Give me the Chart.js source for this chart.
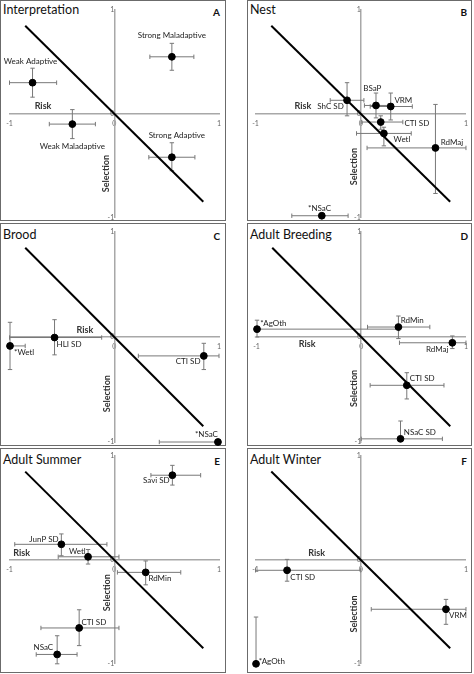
<!DOCTYPE html>
<html><head><meta charset="utf-8">
<script src="https://cdn.jsdelivr.net/npm/chart.js@4.4.1/dist/chart.umd.min.js"></script>
<style>
html,body{margin:0;padding:0;background:#fff;}
#wrap{position:relative;width:474px;height:674px;overflow:hidden;background:#fff;}
.frame{position:absolute;box-sizing:border-box;border:1.5px solid #6b6b6b;}
.ptitle{position:absolute;font-family:Lato,sans-serif;font-size:12.5px;color:#111;line-height:1;white-space:nowrap;}
.pletter{position:absolute;width:20px;text-align:right;font-family:Lato,sans-serif;font-weight:bold;font-size:10px;color:#111;line-height:1;}
canvas{position:absolute;left:0;top:0;}
</style></head><body><div id="wrap">
<div class="frame" style="left:0;top:0;width:226px;height:221px"></div>
<div class="frame" style="left:247px;top:0;width:225px;height:221px"></div>
<div class="frame" style="left:0;top:223px;width:226px;height:223px"></div>
<div class="frame" style="left:247px;top:223px;width:225px;height:223px"></div>
<div class="frame" style="left:0;top:448px;width:226px;height:225px"></div>
<div class="frame" style="left:247px;top:448px;width:225px;height:225px"></div>
<div class="ptitle" style="left:3px;top:3.9px">Interpretation</div>
<div class="ptitle" style="left:250px;top:4.4px">Nest</div>
<div class="ptitle" style="left:3px;top:229.2px">Brood</div>
<div class="ptitle" style="left:250px;top:229.2px">Adult Breeding</div>
<div class="ptitle" style="left:3px;top:454.2px">Adult Summer</div>
<div class="ptitle" style="left:250px;top:454.2px">Adult Winter</div>
<div class="pletter" style="left:200px;top:6.8px">A</div>
<div class="pletter" style="left:447px;top:6.8px">B</div>
<div class="pletter" style="left:200px;top:231.4px">C</div>
<div class="pletter" style="left:448px;top:231.4px">D</div>
<div class="pletter" style="left:200px;top:456.4px">E</div>
<div class="pletter" style="left:447px;top:456.4px">F</div>
<canvas id="cA" width="474" height="674"></canvas>
<canvas id="cB" width="474" height="674"></canvas>
<canvas id="cC" width="474" height="674"></canvas>
<canvas id="cD" width="474" height="674"></canvas>
<canvas id="cE" width="474" height="674"></canvas>
<canvas id="cF" width="474" height="674"></canvas>
</div>
<script>
// ---------- DATA (risk = x, selection = y) ----------
const tickValues = [-1, 0, 1];
const diagonalRisk = [-0.85, 0.85];
const diagonalSelection = [0.85, -0.85];

// A: Interpretation
const interpNames = ['Weak Adaptive', 'Strong Maladaptive', 'Weak Maladaptive', 'Strong Adaptive'];
const interpRisk = [-0.78, 0.55, -0.40, 0.55];
const interpSelection = [0.30, 0.55, -0.10, -0.42];
const interpRiskCI = [[-1.0, -0.55], [0.34, 0.76], [-0.62, -0.18], [0.33, 0.77]];
const interpSelectionCI = [[0.16, 0.44], [0.42, 0.68], [-0.24, 0.04], [-0.55, -0.28]];

// B: Nest
const nestNames = ['ShC SD', 'BSaP', 'VRM', 'CTI SD', 'Wetl', 'RdMaj', '*NSaC'];
const nestRisk = [-0.13, 0.145, 0.285, 0.19, 0.22, 0.71, -0.37];
const nestSelection = [0.13, 0.08, 0.07, -0.08, -0.19, -0.33, -0.985];
const nestRiskCI = [[-0.29, 0.03], [0.035, 0.26], [0.09, 0.49], [0.01, 0.40], [-0.04, 0.48], [0.06, 1.0], [-0.655, -0.12]];
const nestSelectionCI = [[-0.02, 0.30], [-0.04, 0.20], [-0.06, 0.20], [-0.15, -0.02], [-0.31, -0.13], [-0.77, 0.09], null];

// C: Brood
const broodNames = ['HLI SD', '*Wetl', 'CTI SD', '*NSaC'];
const broodRisk = [-0.57, -0.995, 0.855, 0.99];
const broodSelection = [-0.005, -0.085, -0.18, -1.0];
const broodRiskCI = [[-1.0, -0.12], [-1.0, -0.85], [0.23, 1.0], [0.43, 1.0]];
const broodSelectionCI = [[-0.17, 0.165], [-0.31, 0.14], [-0.31, -0.06], null];

// D: Adult Breeding
const breedNames = ['*AgOth', 'RdMin', 'RdMaj', 'CTI SD', 'NSaC SD'];
const breedRisk = [-0.995, 0.355, 0.87, 0.435, 0.375];
const breedSelection = [0.075, 0.095, -0.055, -0.46, -0.97];
const breedRiskCI = [[-1.0, 0.36], [0.06, 0.655], [0.365, 1.0], [0.085, 0.79], [0.0, 0.775]];
const breedSelectionCI = [[0.0, 0.16], [-0.015, 0.2], [-0.11, 0.01], [-0.59, -0.34], [-0.975, -0.8]];

// E: Adult Summer
const summerNames = ['Savi SD', 'JunP SD', 'Wetl', 'RdMin', 'CTI SD', 'NSaC'];
const summerRisk = [0.555, -0.505, -0.25, 0.30, -0.335, -0.545];
const summerSelection = [0.815, 0.15, 0.03, -0.12, -0.655, -0.91];
const summerRiskCI = [[0.35, 0.825], [-0.95, -0.07], [-0.535, 0.045], [0.03, 0.635], [-0.70, 0.045], [-0.745, -0.355]];
const summerSelectionCI = [[0.72, 0.91], [0.04, 0.25], [-0.04, 0.10], [-0.24, -0.01], [-0.825, -0.48], [-1.0, -0.73]];

// F: Adult Winter
const winterNames = ['CTI SD', 'VRM', '*AgOth'];
const winterRisk = [-0.70, 0.81, -0.995];
const winterSelection = [-0.10, -0.475, -1.0];
const winterRiskCI = [[-1.0, 0.0], [0.10, 1.0], null];
const winterSelectionCI = [[-0.205, 0.005], [-0.62, -0.38], [-1.0, -0.55]];

// ---------- STYLE / LAYOUT (label anchor: px offset from point + alignment) ----------
const interpLabelOffsets = [[-2, -21.7, 'center'], [0, -21.3, 'center'], [0, 22.7, 'center'], [5, -21.7, 'center']];
const nestLabelOffsets = [[-3.3, 5.7, 'right'], [-3.7, -17, 'center'], [3.7, -6, 'left'], [23.7, 1.7, 'left'], [9.7, 6.3, 'left'], [5.3, -5, 'left'], [-2.3, -7.7, 'center']];
const broodLabelOffsets = [[2, 6.7, 'left'], [4, 6.7, 'left'], [-3.3, 6, 'right'], [0, -7.3, 'right']];
const breedLabelOffsets = [[3.3, -5.7, 'left'], [2.3, -6.3, 'left'], [-4, 6.7, 'right'], [3, -6.7, 'left'], [3.3, -6.7, 'left']];
const summerLabelOffsets = [[-2.7, 5.7, 'right'], [-2.7, -5.3, 'right'], [-2.3, -5, 'right'], [2.7, 5.7, 'left'], [2.3, -5.7, 'left'], [-4, -7, 'right']];
const winterLabelOffsets = [[3.3, 7.3, 'left'], [3, 5.7, 'left'], [2.7, -2.7, 'left']];

const FONT = 'Lato, "Open Sans", sans-serif';

const errorBars = {
  id: 'errorBars',
  beforeDatasetsDraw(chart) {
    const ds = chart.data.datasets[0];
    const xs = chart.scales.x, ys = chart.scales.y;
    const ctx = chart.ctx;
    ctx.save();
    ctx.strokeStyle = '#787878';
    ctx.lineWidth = 1;
    const cap = 2.2;
    ds.data.forEach((p, i) => {
      const px = xs.getPixelForValue(p.x), py = ys.getPixelForValue(p.y);
      const rc = ds.riskCI[i], sc = ds.selCI[i];
      ctx.beginPath();
      if (rc) {
        const a = xs.getPixelForValue(rc[0]), b = xs.getPixelForValue(rc[1]);
        ctx.moveTo(a, py); ctx.lineTo(b, py);
        ctx.moveTo(a, py - cap); ctx.lineTo(a, py + cap);
        ctx.moveTo(b, py - cap); ctx.lineTo(b, py + cap);
      }
      if (sc) {
        const a = ys.getPixelForValue(sc[0]), b = ys.getPixelForValue(sc[1]);
        ctx.moveTo(px, a); ctx.lineTo(px, b);
        ctx.moveTo(px - cap, a); ctx.lineTo(px + cap, a);
        ctx.moveTo(px - cap, b); ctx.lineTo(px + cap, b);
      }
      ctx.stroke();
    });
    ctx.restore();
  }
};

const panelText = {
  id: 'panelText',
  afterDatasetsDraw(chart, args, opts) {
    const ds = chart.data.datasets[0];
    const xs = chart.scales.x, ys = chart.scales.y;
    const ctx = chart.ctx;
    ctx.save();
    ctx.fillStyle = '#222';
    ctx.textBaseline = 'middle';
    ctx.font = '8px ' + FONT;
    ds.data.forEach((p, i) => {
      const px = xs.getPixelForValue(p.x), py = ys.getPixelForValue(p.y);
      const o = ds.offsets[i];
      ctx.textAlign = o[2];
      ctx.fillText(ds.names[i], px + o[0], py + o[1]);
    });
    ctx.textAlign = 'center';
    ctx.font = 'bold 9px ' + FONT;
    ctx.fillStyle = '#333';
    ctx.fillText('Risk', xs.getPixelForValue(opts.riskAt[0]), ys.getPixelForValue(opts.riskAt[1]));
    ctx.translate(xs.getPixelForValue(opts.selAt[0]), ys.getPixelForValue(opts.selAt[1]));
    ctx.rotate(-Math.PI / 2);
    ctx.fillText('Selection', 0, 0);
    ctx.restore();
  }
};

function axisOptions(pos) {
  return {
    type: 'linear', min: -1, max: 1, position: pos,
    grid: { display: false, drawTicks: false },
    border: { display: true, color: '#a8a8a8', width: 1.5 },
    ticks: {
      stepSize: 1, autoSkip: false, maxRotation: 0, padding: 6,
      color: '#666', font: { size: 7, family: FONT },
      callback: v => (tickValues.includes(v) ? String(v) : '')
    }
  };
}

function buildPanel(id, area, names, risk, sel, riskCI, selCI, offsets, riskAt, selAt) {
  return new Chart(document.getElementById(id), {
    type: 'scatter',
    data: {
      datasets: [
        {
          type: 'scatter',
          data: names.map((n, i) => ({ x: risk[i], y: sel[i] })),
          names, riskCI, selCI, offsets,
          backgroundColor: '#000', borderColor: '#000', pointRadius: 3.4, pointHoverRadius: 3.4,
          clip: false, order: 0
        },
        {
          type: 'line',
          data: diagonalRisk.map((x, i) => ({ x, y: diagonalSelection[i] })),
          borderColor: '#000', borderWidth: 2, pointRadius: 0, fill: false, clip: false, order: 1
        }
      ]
    },
    options: {
      responsive: false, animation: false, events: [],
      layout: { padding: { left: area[0], top: area[2], right: 474 - area[1], bottom: 674 - area[3] } },
      plugins: { legend: { display: false }, tooltip: { enabled: false }, panelText: { riskAt, selAt } },
      scales: { x: axisOptions({ y: 0 }), y: axisOptions({ x: 0 }) }
    },
    plugins: [errorBars, panelText]
  });
}

buildPanel('cA', [9.5, 219, 7.3, 217.3], interpNames, interpRisk, interpSelection, interpRiskCI, interpSelectionCI, interpLabelOffsets, [-0.68, 0.07], [-0.075, -0.578]);
buildPanel('cB', [255.5, 466, 7.3, 217.3], nestNames, nestRisk, nestSelection, nestRiskCI, nestSelectionCI, nestLabelOffsets, [-0.55, 0.07], [-0.065, -0.51]);
buildPanel('cC', [9.5, 219, 232, 442], broodNames, broodRisk, broodSelection, broodRiskCI, broodSelectionCI, broodLabelOffsets, [-0.28, 0.063], [-0.07, -0.54]);
buildPanel('cD', [256.5, 466, 232, 442], breedNames, breedRisk, breedSelection, breedRiskCI, breedSelectionCI, breedLabelOffsets, [-0.517, -0.063], [-0.065, -0.49]);
buildPanel('cE', [9.5, 219, 456, 666.5], summerNames, summerRisk, summerSelection, summerRiskCI, summerSelectionCI, summerLabelOffsets, [-0.884, 0.063], [-0.07, -0.316]);
buildPanel('cF', [255.5, 466, 456, 666.5], winterNames, winterRisk, winterSelection, winterRiskCI, winterSelectionCI, winterLabelOffsets, [-0.418, 0.063], [-0.065, -0.52]);
</script>
</body></html>
